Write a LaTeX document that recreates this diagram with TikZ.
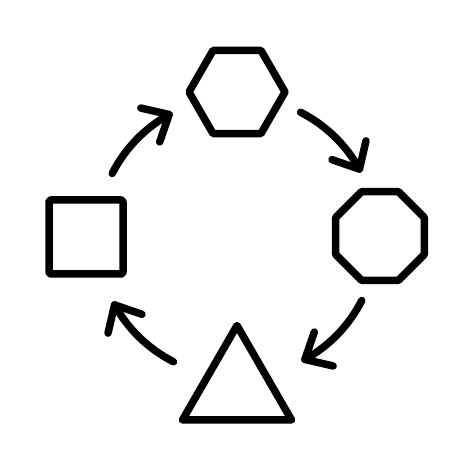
\documentclass[tikz,border=0pt]{standalone}
\usetikzlibrary{shapes.geometric,calc}
\begin{document}
\begin{tikzpicture}[x=1pt,y=1pt,
  outline/.style={draw=black,line width=7.5pt,line join=round,inner sep=0pt,outer sep=0pt},
  flow/.style={draw=black,line width=7.5pt,line cap=round,line join=round}]
\fill[white] (0,0) rectangle (474,474);
\useasboundingbox (0,0) rectangle (474,474);
\coordinate (O) at (237,237);
% shapes
\node[outline,regular polygon,regular polygon sides=6,minimum size=96pt] (hex) at (237,382) {};
\node[outline,regular polygon,regular polygon sides=8,minimum size=96pt] (oct) at (380,238) {};
\node[outline,regular polygon,regular polygon sides=3,minimum size=126pt] (tri) at (237,85.5) {};
\node[outline,rectangle,minimum size=74pt,rounded corners=2pt] (sq) at (86,237) {};
% curved arrows
\foreach \k in {0,1,2,3} {
  \pgfmathsetmacro\a{153-90*\k}
  \pgfmathsetmacro\b{119-90*\k}
  \pgfmathsetmacro\pa{\b+48}
  \pgfmathsetmacro\pb{\b+132}
  \coordinate (tail\k) at ($(O)+(\a:140)$);
  \coordinate (tip\k) at ($(O)+(\b:140)$);
  \draw[flow] (tail\k) arc[start angle=\a, end angle=\b, radius=140];
  \draw[flow] ($(tip\k)+(\pa:29)$) -- (tip\k) -- ($(tip\k)+(\pb:29)$);
}
\end{tikzpicture}
\end{document}
